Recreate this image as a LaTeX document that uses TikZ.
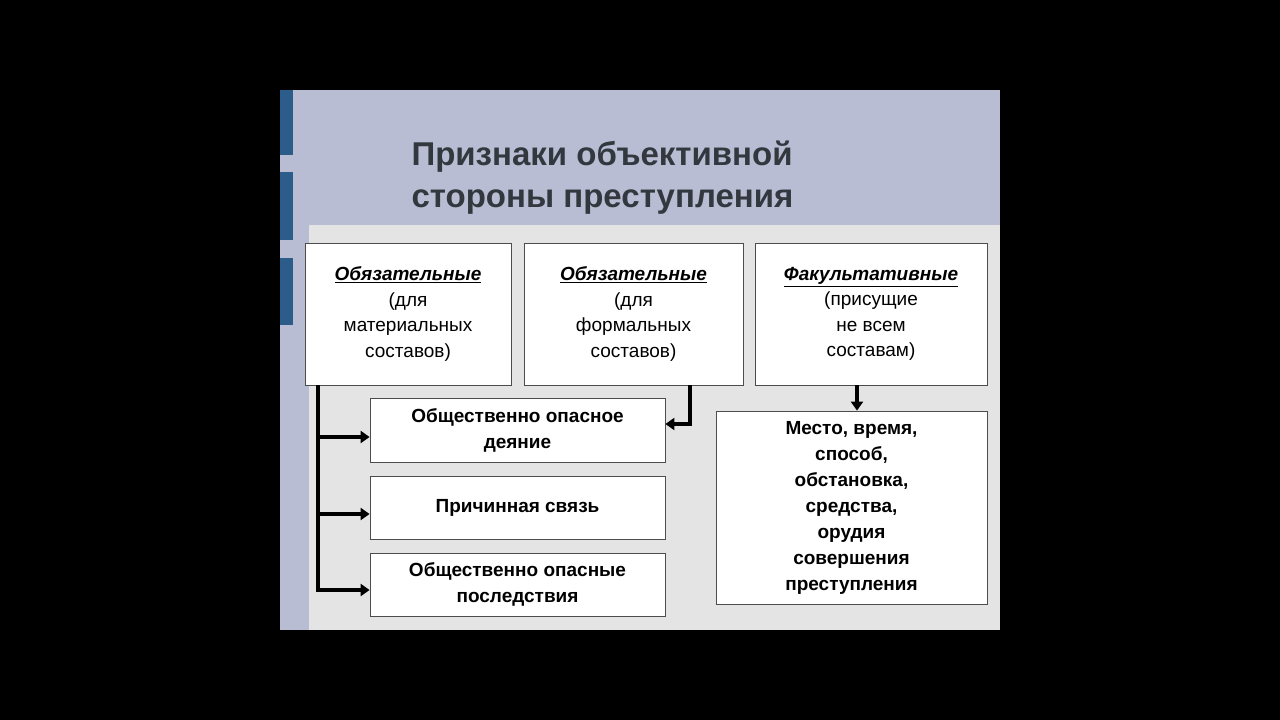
\documentclass[tikz,border=0pt]{standalone}
\usepackage{fontspec}
\setmainfont{Liberation Sans}
\usetikzlibrary{arrows.meta}
\definecolor{slidebg}{HTML}{B9BDD3}
\definecolor{bodybg}{HTML}{E4E4E4}
\definecolor{bar}{HTML}{2B5C8A}
\definecolor{titlec}{HTML}{33383F}
\tikzset{
  box/.style={draw=black!70,line width=0.8pt,fill=white,align=center,inner sep=0pt},
  conn/.style={line width=3.5pt,-{Triangle[length=9pt,width=12pt]}},
  hd/.style={font=\fontsize{19}{25}\selectfont\bfseries\itshape},
}
\newcommand{\hdu}[1]{\underline{\textbf{\textit{#1}}}}
\begin{document}
\begin{tikzpicture}[x=1pt,y=-1pt]
\fill[black] (0,0) rectangle (1280,720);
\useasboundingbox (0,0) rectangle (1280,720);
\fill[slidebg] (280,90) rectangle (1000,630);
\fill[bodybg] (309,225) rectangle (1000,630);
\fill[bar] (280,90) rectangle (293,155);
\fill[bar] (280,172) rectangle (293,240);
\fill[bar] (280,258) rectangle (293,325);
\node[font=\fontsize{33}{42}\selectfont\bfseries,text=titlec,align=left,anchor=west] (title) at (408,178) {Признаки объективной\\стороны преступления};
\tikzset{txt/.style={font=\fontsize{19}{25.5}\selectfont}}
\node[box,txt,minimum width=206pt,minimum height=142pt] (A) at (408,314) {\hdu{Обязательные}\\(для\\материальных\\составов)};
\node[box,txt,minimum width=219pt,minimum height=142pt] (B) at (633.5,314) {\hdu{Обязательные}\\(для\\формальных\\составов)};
\node[box,txt,minimum width=232pt,minimum height=142pt] (C) at (871,314) {\hdu{Факультативные}\\(присущие\\не всем\\составам)};
\tikzset{bt/.style={font=\fontsize{19}{26}\selectfont\bfseries}}
\node[box,bt,minimum width=295pt,minimum height=64pt] (D) at (517.5,430) {Общественно опасное\\деяние};
\node[box,bt,minimum width=295pt,minimum height=63pt] (E) at (517.5,507.5) {Причинная связь};
\node[box,bt,minimum width=295pt,minimum height=63pt] (F) at (517.5,584.5) {Общественно опасные\\последствия};
\node[box,bt,minimum width=271pt,minimum height=193pt] (G) at (851.5,507.5) {Место, время,\\способ,\\обстановка,\\средства,\\орудия\\совершения\\преступления};
\coordinate (a0) at (318,385);
\coordinate (a1) at (318,437);
\coordinate (a2) at (318,514);
\coordinate (a3) at (318,590);
\draw[line width=3.5pt] (a0) -- (a3);
\draw[conn] (a1) -- (D.west |- a1);
\draw[conn] (a2) -- (E.west |- a2);
\draw[conn] ([xshift=-1.75pt]a3) -- (F.west |- a3);
\coordinate (b0) at (690,385);
\draw[conn] (b0) |- (D.east |- 0,424);
\draw[conn] (857,385) -- (G.north -| 857,0);
\end{tikzpicture}
\end{document}
